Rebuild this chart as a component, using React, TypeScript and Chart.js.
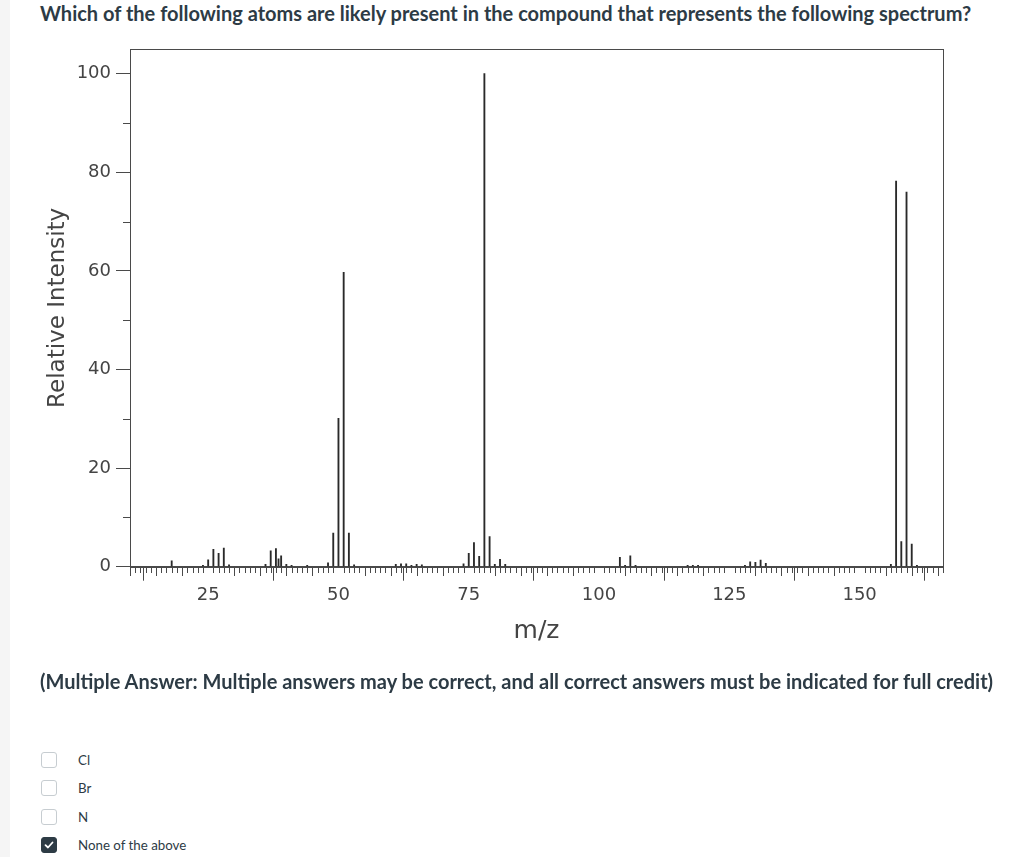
import React, { useEffect, useRef } from "react";
import { Chart, registerables } from "chart.js";

Chart.register(...registerables);

// ---- data ----
const mzValues = [18, 24, 25, 26, 27, 28, 29, 36, 37, 38, 38.5, 39, 40, 41, 44, 48, 49, 50, 51, 52, 53,
  61, 62, 63, 64, 65, 66, 74, 75, 76, 77, 78, 79, 80, 81, 82,
  104, 105, 106, 107, 117, 118, 119, 128, 129, 130, 131, 132,
  156, 157, 158, 159, 160, 161];
const intensities = [1.2, 0.3, 1.4, 3.5, 2.7, 3.8, 0.4, 0.5, 3.2, 3.7, 1.6, 2.2, 0.5, 0.3, 0.3, 0.8, 6.8, 30.1, 59.7, 6.8, 0.4,
  0.5, 0.6, 0.6, 0.3, 0.5, 0.4, 0.6, 2.7, 4.9, 2.1, 100, 6.1, 0.5, 1.5, 0.5,
  1.9, 0.3, 2.2, 0.3, 0.3, 0.3, 0.3, 0.3, 1.0, 0.9, 1.35, 0.7,
  0.5, 78.2, 5.1, 76.0, 4.6, 0.3];
const xMajorTicks = [25, 50, 75, 100, 125, 150];
const yMajorTicks = [0, 20, 40, 60, 80, 100];
const xRange = [10, 166];
const yRange = [0, 105];
const xTitle = "m/z";
const yTitle = "Relative Intensity";
const questionText = "Which of the following atoms are likely present in the compound that represents the following spectrum?";
const noteText = "(Multiple Answer: Multiple answers may be correct, and all correct answers must be indicated for full credit)";
const answerOptions = ["Cl", "Br", "N", "None of the above"];
const answerChecked = [false, false, false, true];

const AXIS = "#4a4a4a";
const PEAK = "#2a2a2a";
const TEXT = "#2d3b45";

const frameAndMinor = {
  id: "frameAndMinor",
  afterDraw(chart: any) {
    const { ctx, chartArea, scales } = chart;
    const x = scales.x;
    const y = scales.y;
    ctx.save();
    ctx.strokeStyle = AXIS;
    ctx.lineWidth = 1;
    ctx.beginPath();
    for (let v = Math.ceil(x.min); v <= x.max; v++) {
      if (xMajorTicks.includes(v)) continue;
      const px = Math.round(x.getPixelForValue(v)) + 0.5;
      const len = v % 5 === 0 ? 9 : 6;
      ctx.moveTo(px, Math.round(chartArea.bottom));
      ctx.lineTo(px, Math.round(chartArea.bottom) + len);
    }
    for (let v = 10; v < 100; v += 20) {
      const py = Math.round(y.getPixelForValue(v)) + 0.5;
      ctx.moveTo(Math.round(chartArea.left), py);
      ctx.lineTo(Math.round(chartArea.left) - 7, py);
    }
    ctx.stroke();
    ctx.strokeRect(Math.round(chartArea.left) + 0.5, Math.round(chartArea.top) + 0.5,
      Math.round(chartArea.right - chartArea.left), Math.round(chartArea.bottom - chartArea.top));
    ctx.restore();
  },
};

function SpectrumChart() {
  const ref = useRef<HTMLCanvasElement | null>(null);
  useEffect(() => {
    if (!ref.current) return;
    const chart = new Chart(ref.current, {
      type: "bar",
      data: {
        datasets: [
          {
            data: mzValues.map((m, i) => ({ x: m, y: intensities[i] })),
            backgroundColor: PEAK,
            borderWidth: 0,
            barThickness: 1.2,
          } as any,
        ],
      },
      options: {
        animation: false,
        responsive: false,
        devicePixelRatio: 1,
        layout: { padding: { left: 0, right: 80, top: 19, bottom: 23.3 } },
        plugins: { legend: { display: false }, tooltip: { enabled: false } },
        scales: {
          x: {
            type: "linear",
            min: xRange[0],
            max: xRange[1],
            offset: false,
            afterBuildTicks: (s: any) => {
              s.ticks = xMajorTicks.map((v) => ({ value: v }));
            },
            afterFit: (s: any) => {
              s.height = 80;
            },
            grid: { drawOnChartArea: false, drawTicks: true, tickLength: 14, color: AXIS, tickColor: AXIS },
            border: { display: true, color: AXIS },
            ticks: {
              autoSkip: false,
              maxRotation: 0,
              padding: 4,
              color: "#444",
              font: { family: "DejaVu Sans", size: 18 },
            },
            title: {
              display: true,
              text: xTitle,
              color: "#444",
              font: { family: "DejaVu Sans", size: 25 },
              padding: { top: 0, bottom: 0 },
            },
          },
          y: {
            type: "linear",
            min: yRange[0],
            max: yRange[1],
            afterBuildTicks: (s: any) => {
              s.ticks = yMajorTicks.map((v) => ({ value: v }));
            },
            afterFit: (s: any) => {
              s.width = 130;
            },
            grid: { drawOnChartArea: false, drawTicks: true, tickLength: 14, color: AXIS, tickColor: AXIS },
            border: { display: true, color: AXIS },
            ticks: {
              padding: 5,
              color: "#444",
              font: { family: "DejaVu Sans", size: 18 },
            },
            title: {
              display: true,
              text: yTitle,
              color: "#444",
              font: { family: "DejaVu Sans", size: 23 },
              padding: { top: 44, bottom: 0 },
            },
          },
        },
      },
      plugins: [frameAndMinor],
    });
    return () => chart.destroy();
  }, []);
  return (
    <canvas
      ref={ref}
      width={1023}
      height={640}
      style={{ position: "absolute", left: 0, top: 30, width: 1023, height: 640 }}
    />
  );
}

function CheckBox({ checked }: { checked: boolean }) {
  return (
    <div
      style={{
        width: 16,
        height: 16,
        boxSizing: "border-box",
        borderRadius: 3,
        border: checked ? "1px solid #2d3b45" : "1px solid #c7cdd1",
        background: checked ? "#2d3b45" : "#fff",
        display: "flex",
        alignItems: "center",
        justifyContent: "center",
        flexShrink: 0,
      }}
    >
      {checked && (
        <svg width="12" height="12" viewBox="0 0 12 12">
          <path d="M2.5 6.2 L5 8.5 L9.5 3.5" stroke="#fff" strokeWidth="1.8" fill="none" strokeLinecap="round" strokeLinejoin="round" />
        </svg>
      )}
    </div>
  );
}

export default function App() {
  return (
    <div
      style={{
        position: "absolute",
        left: 0,
        top: 0,
        width: 1023,
        height: 857,
        background: "#fff",
        overflow: "hidden",
        fontFamily: "Lato, 'Open Sans', sans-serif",
        color: TEXT,
      }}
    >
      <div style={{ position: "absolute", left: 0, top: 0, width: 10, height: 857, background: "#f5f5f5" }} />
      <div
        style={{
          position: "absolute",
          left: 40,
          top: 1,
          fontSize: 20,
          fontWeight: 700,
          lineHeight: "24px",
          whiteSpace: "nowrap",
        }}
      >
        {questionText}
      </div>
      <SpectrumChart />
      <div
        style={{
          position: "absolute",
          left: 40,
          top: 669,
          fontSize: 20,
          fontWeight: 700,
          lineHeight: "24px",
          whiteSpace: "nowrap",
        }}
      >
        {noteText}
      </div>
      {answerOptions.map((label, i) => (
        <div
          key={label}
          style={{
            position: "absolute",
            left: 41,
            top: 751.5 + i * 28.6,
            height: 16,
            display: "flex",
            alignItems: "center",
          }}
        >
          <CheckBox checked={answerChecked[i]} />
          <span style={{ marginLeft: 21, fontSize: 13.3, lineHeight: "16px", whiteSpace: "nowrap" }}>{label}</span>
        </div>
      ))}
    </div>
  );
}
